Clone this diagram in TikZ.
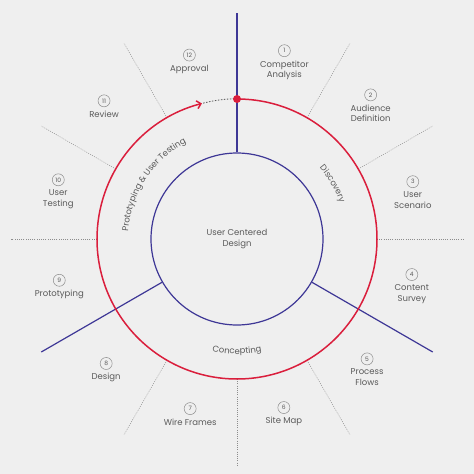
\documentclass[tikz,border=0pt]{standalone}
\usepackage{fontspec}
\setmainfont{Poppins}
\usetikzlibrary{positioning,arrows.meta,decorations.text}

\definecolor{bgcol}{RGB}{239,239,239}
\definecolor{ucdblue}{RGB}{62,55,150}
\definecolor{ucdred}{RGB}{218,30,60}
\definecolor{txtgray}{RGB}{90,90,90}
\definecolor{divgray}{RGB}{140,140,140}

\newcommand{\lblfont}{\fontsize{8.5}{10.5}\selectfont}
\newcommand{\numfont}{\fontsize{6}{6.5}\selectfont}

\begin{document}
\begin{tikzpicture}[x=1pt, y=1pt,
    step_lbl/.style={align=center, inner sep=0pt, text=txtgray, font=\lblfont},
    num_node/.style={circle, draw=divgray, line width=0.5pt, inner sep=0pt, minimum size=12pt, text=txtgray, font=\numfont},
    blue_line/.style={draw=ucdblue, line width=1.2pt},
    divider/.style={draw=divgray, line width=0.45pt, dash pattern=on 1pt off 1.2pt},
    red_ring/.style={draw=ucdred, line width=1.5pt}]

    \fill[bgcol] (-237,-235) rectangle (237,239);
    \useasboundingbox (-237,-235) rectangle (237,239);

    \node[circle, draw=ucdblue, line width=1.2pt, minimum size=172pt, inner sep=0pt, align=center, text=txtgray, font=\lblfont] (ucd) at (0,0) {User Centered\\Design};
    \node[circle, minimum size=280pt, inner sep=0pt, outer sep=0pt] (ring) at (0,0) {};

    % free ends of the spokes
    \coordinate (e0) at (0:226);
    \coordinate (e30) at (30:226);
    \coordinate (e60) at (60:226);
    \coordinate (e90) at (90:226);
    \coordinate (e120) at (120:226);
    \coordinate (e150) at (150:226);
    \coordinate (e180) at (180:226);
    \coordinate (e210) at (210:226);
    \coordinate (e240) at (240:226);
    \coordinate (e270) at (270:226);
    \coordinate (e300) at (300:226);
    \coordinate (e330) at (330:226);

    \draw[divider] (ring.0) -- (e0);
    \draw[divider] (ring.30) -- (e30);
    \draw[divider] (ring.60) -- (e60);
    \draw[divider] (ring.120) -- (e120);
    \draw[divider] (ring.150) -- (e150);
    \draw[divider] (ring.180) -- (e180);
    \draw[divider] (ring.240) -- (e240);
    \draw[divider] (ring.270) -- (e270);
    \draw[divider] (ring.300) -- (e300);

    \draw[blue_line] (ucd.90) -- (e90);
    \draw[blue_line] (ucd.210) -- (e210);
    \draw[blue_line] (ucd.330) -- (e330);

    \draw[red_ring, -{Straight Barb[length=4pt, width=8pt]}] (ring.90) arc (90:-255.5:140);
    \draw[draw=txtgray, line width=0.8pt, dash pattern=on 1.5pt off 1.5pt] (ring.104.5) arc (104.5:90:140);
    \node[circle, fill=ucdred, inner sep=0pt, minimum size=8pt] (start) at (ring.90) {};

    % phase names along the ring
    \path[decorate, decoration={text along path, text={|\lblfont|Discovery}, text align=center, text color=txtgray}] (60:109) arc (60:0:109);
    \path[decorate, decoration={text along path, text={|\lblfont|Prototyping {\&} User Testing}, text align=center, text color=txtgray}] (200:109) arc (200:94:109);
    \path[decorate, decoration={text along path, text={|\lblfont|Concepting}, text align=center, text color=txtgray}] (240:115) arc (240:300:115);

    % steps
    \node[step_lbl, yshift=-8pt] (s1) at (75:183) {Competitor\\Analysis};
    \node[step_lbl, yshift=-8pt] (s2) at (45:189) {Audience\\Definition};
    \node[step_lbl, yshift=-8pt] (s3) at (15:182) {User\\Scenario};
    \node[step_lbl, yshift=-8pt] (s4) at (-15:181) {Content\\Survey};
    \node[step_lbl, yshift=-8pt] (s5) at (-45:184) {Process\\Flows};
    \node[step_lbl, yshift=-8pt] (s6) at (-75:181) {Site Map};
    \node[step_lbl, yshift=-8pt] (s7) at (-105:181) {Wire Frames};
    \node[step_lbl, yshift=-8pt] (s8) at (-135:185) {Design};
    \node[step_lbl, yshift=-8pt] (s9) at (-165:184) {Prototyping};
    \node[step_lbl, yshift=-8pt] (s10) at (165:185) {User\\Testing};
    \node[step_lbl, yshift=-8pt] (s11) at (135:188) {Review};
    \node[step_lbl, yshift=-8pt] (s12) at (105:184) {Approval};

    \node[num_node, above=3.5pt of s1] (n1) {1};
    \node[num_node, above=3.5pt of s2] (n2) {2};
    \node[num_node, above=3.5pt of s3] (n3) {3};
    \node[num_node, above=3.5pt of s4] (n4) {4};
    \node[num_node, above=3.5pt of s5] (n5) {5};
    \node[num_node, above=3.5pt of s6] (n6) {6};
    \node[num_node, above=3.5pt of s7] (n7) {7};
    \node[num_node, above=3.5pt of s8] (n8) {8};
    \node[num_node, above=3.5pt of s9] (n9) {9};
    \node[num_node, above=3.5pt of s10] (n10) {10};
    \node[num_node, above=3.5pt of s11] (n11) {11};
    \node[num_node, above=3.5pt of s12] (n12) {12};

\end{tikzpicture}
\end{document}
